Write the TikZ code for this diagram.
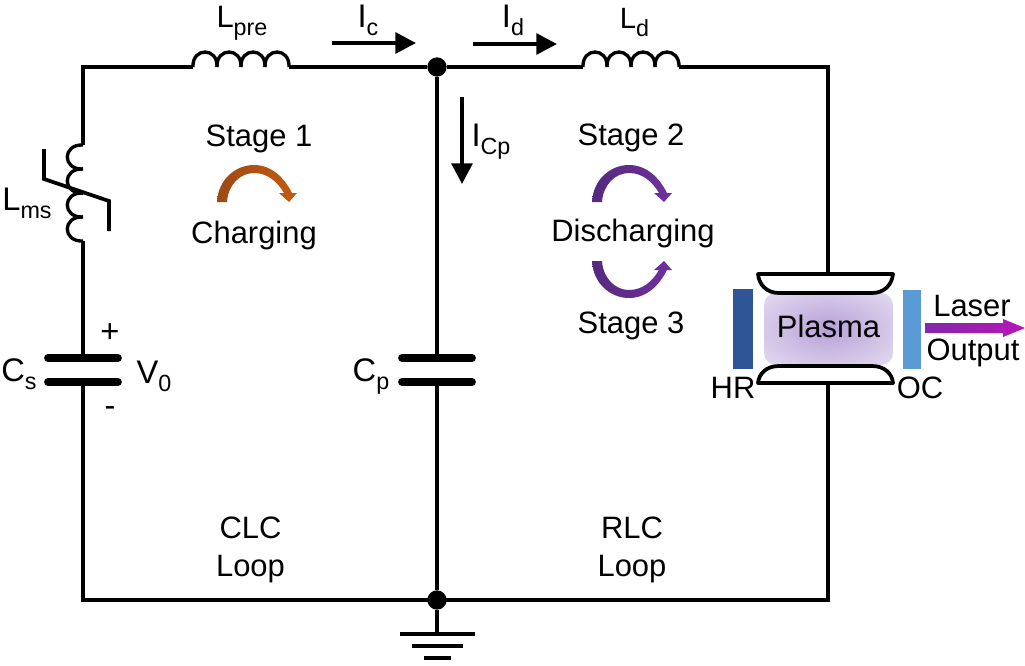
\documentclass[tikz,border=0pt]{standalone}
\usepackage{fontspec}
\setmainfont{Liberation Sans}
\usepackage{xcolor}
\usetikzlibrary{arrows.meta}

\definecolor{hrblue}{HTML}{2F5597}
\definecolor{ocblue}{HTML}{5B9BD5}
\definecolor{brownA}{HTML}{9C4A14}
\definecolor{brownB}{HTML}{C55A11}
\definecolor{purpleA}{HTML}{55297E}
\definecolor{purpleB}{HTML}{7030A0}
\definecolor{plasmaA}{HTML}{B8A0D8}
\definecolor{plasmaB}{HTML}{E4DCF0}
\definecolor{laserA}{HTML}{8228A8}
\definecolor{laserB}{HTML}{B816B8}
\pgfdeclareradialshading{plasmashade}{\pgfpoint{0bp}{0bp}}{color(0bp)=(plasmaA); color(36bp)=(plasmaB); color(50bp)=(plasmaB)}
\newcommand{\lsub}[2]{#1\raisebox{-6.5pt}{\fontsize{17.5}{20}\selectfont #2}}
\newcommand{\bendpath}{(217,202) .. controls (218,180) and (235,165) .. (254,165)
        .. controls (271,165) and (284,177) .. (292,193) -- (297,193) -- (289,202) -- (279,193) -- (284,193)
        .. controls (277,181) and (267,173) .. (254,173)
        .. controls (240,173) and (228,185) .. (227,202) -- cycle}
\tikzset{
        wire/.style={line width=2.8pt,line join=miter},
        coil/.style={line width=2.5pt},
        plate/.style={line width=5.8pt,line cap=round},
        gndbar/.style={line width=3pt},
        dot/.style={circle,fill=black,inner sep=0pt,minimum size=14.5pt},
        lbl/.style={anchor=base,inner sep=0pt,font=\fontsize{23.2}{27}\selectfont},
        sublbl/.style={anchor=base,inner sep=0pt,font=\fontsize{24.5}{27}\selectfont},
        current/.style={line width=3pt,-{Triangle[length=15.5pt,width=15.5pt]}},
        electrode/.style={line width=2.8pt,fill=white,line join=round}
}

\begin{document}
\begin{tikzpicture}[x=0.75pt,y=-0.75pt]
        \useasboundingbox (0,0) rectangle (1025,665);
        % corners and junctions
        \coordinate (tl) at (83,67);
        \coordinate (tr) at (828,67);
        \coordinate (bl) at (83,600);
        \coordinate (br) at (828,600);
        \node[dot] (jtop) at (437,67) {};
        \node[dot] (jbot) at (437,600) {};
        % inductor ends
        \coordinate (lpreA) at (193,67);
        \coordinate (lpreB) at (289,67);
        \coordinate (ldA) at (583,67);
        \coordinate (ldB) at (679,67);
        \coordinate (lmsA) at (83,145);
        \coordinate (lmsB) at (83,241);
        % capacitor plates
        \coordinate (csA) at (83,358);
        \coordinate (csB) at (83,382);
        \coordinate (cpA) at (437,358);
        \coordinate (cpB) at (437,382);
        % electrode ends
        \coordinate (eA) at (828,274);
        \coordinate (eB) at (828,383);
        \coordinate (gnd) at (437,634);

        % wires
        \draw[wire] (lmsA) -- (tl) -- (lpreA);
        \draw[wire] (lpreB) -- (jtop) -- (ldA);
        \draw[wire] (ldB) -- (tr) -- (eA);
        \draw[wire] (eB) -- (br) -- (bl) -- (csB);
        \draw[wire] (csA) -- (lmsB);
        \draw[wire] (jtop) -- (cpA);
        \draw[wire] (cpB) -- (jbot) -- (gnd);

        % coils
        \foreach \x in {193,217,241,265}
                \draw[coil] (\x,67) .. controls (\x-1,47) and (\x+25,47) .. (\x+24,67);
        \foreach \x in {583,607,631,655}
                \draw[coil] (\x,67) .. controls (\x-1,47) and (\x+25,47) .. (\x+24,67);
        \foreach \y in {145,169,193,217}
                \draw[coil] (83,\y) .. controls (62,\y-1) and (62,\y+25) .. (83,\y+24);
        \draw[wire] (44,149) -- (44,179) -- (109,201) -- (109,231);

        % capacitors
        \foreach \x in {83,437}
        {
                \draw[plate] (\x-35,358) -- (\x+35,358);
                \draw[plate] (\x-35,382) -- (\x+35,382);
        };

        % ground
        \draw[gndbar] (400,634) -- (475,634);
        \draw[gndbar] (412,646) -- (463,646);
        \draw[gndbar] (424,658) -- (451,658);

        % current arrows
        \draw[current] (332,43) -- (416,43);
        \draw[current] (473,44) -- (557,44);
        \draw[current] (462,97) -- (462,184);

        % loop arrows
        \shade[left color=brownA,right color=brownB] \bendpath;
        \shade[left color=purpleA,right color=purpleB,shift={(375,0)}] \bendpath;
        \shade[left color=purpleA,right color=purpleB,shift={(375,463)},yscale=-1] \bendpath;

        % chamber
        \fill[hrblue] (733,289) rectangle (753,369);
        \fill[ocblue] (903,290) rectangle (921,369);
        \node[minimum width=96.75pt,minimum height=54pt,inner sep=0pt,rounded corners=9pt,shading=plasmashade] (plasma) at (828.5,329) {};
        \draw[electrode] (758,274) -- (893,274) .. controls (892,285) and (884,293) .. (872,293)
                -- (779,293) .. controls (767,293) and (759,285) .. (758,274) -- cycle;
        \draw[electrode] (758,383) -- (893,383) .. controls (892,373) and (884,366) .. (872,366)
                -- (779,366) .. controls (767,366) and (759,373) .. (758,383) -- cycle;
        \shade[left color=laserA,right color=laserB]
                (925,323) -- (1003,323) -- (1003,319) -- (1025,328) -- (1003,337) -- (1003,333) -- (925,333) -- cycle;

        % labels
        \node[lbl] (lpre) at (242,27) {\lsub{L}{pre}};
        \node[lbl,font=\fontsize{22}{24}\selectfont] (ld) at (634.5,28) {\lsub{L}{d}};
        \node[sublbl] (lms) at (27,210) {\lsub{L}{ms}};
        \node[sublbl] (ic) at (368,27) {\lsub{I}{c}};
        \node[sublbl] (id) at (513,27) {\lsub{I}{d}};
        \node[sublbl] (icp) at (491,146) {\lsub{I}{Cp}};
        \node[sublbl] (cs) at (19,381) {\lsub{C}{s}};
        \node[sublbl] (cp) at (371,381) {\lsub{C}{p}};
        \node[sublbl] (vzero) at (154,383) {\lsub{V}{0}};
        \node[sublbl] (plus) at (110,342) {+};
        \node[sublbl] (minus) at (110,416) {-};
        \node[lbl] (st1) at (259,146) {Stage 1};
        \node[lbl] (chg) at (254,243) {Charging};
        \node[lbl] (st2) at (631,145) {Stage 2};
        \node[lbl] (dis) at (633,241) {Discharging};
        \node[lbl] (st3) at (631,333) {Stage 3};
        \node[lbl] (clc) at (250.5,538) {CLC};
        \node[lbl] (clcl) at (250.5,576) {Loop};
        \node[lbl] (rlc) at (632,538) {RLC};
        \node[lbl] (rlcl) at (632,576) {Loop};
        \node[lbl] (plasmat) at (828.5,337) {Plasma};
        \node[lbl] (hr) at (733,398) {HR};
        \node[lbl] (oc) at (920,398) {OC};
        \node[lbl] (laser) at (972,316) {Laser};
        \node[lbl] (output) at (973,360) {Output};
\end{tikzpicture}
\end{document}
